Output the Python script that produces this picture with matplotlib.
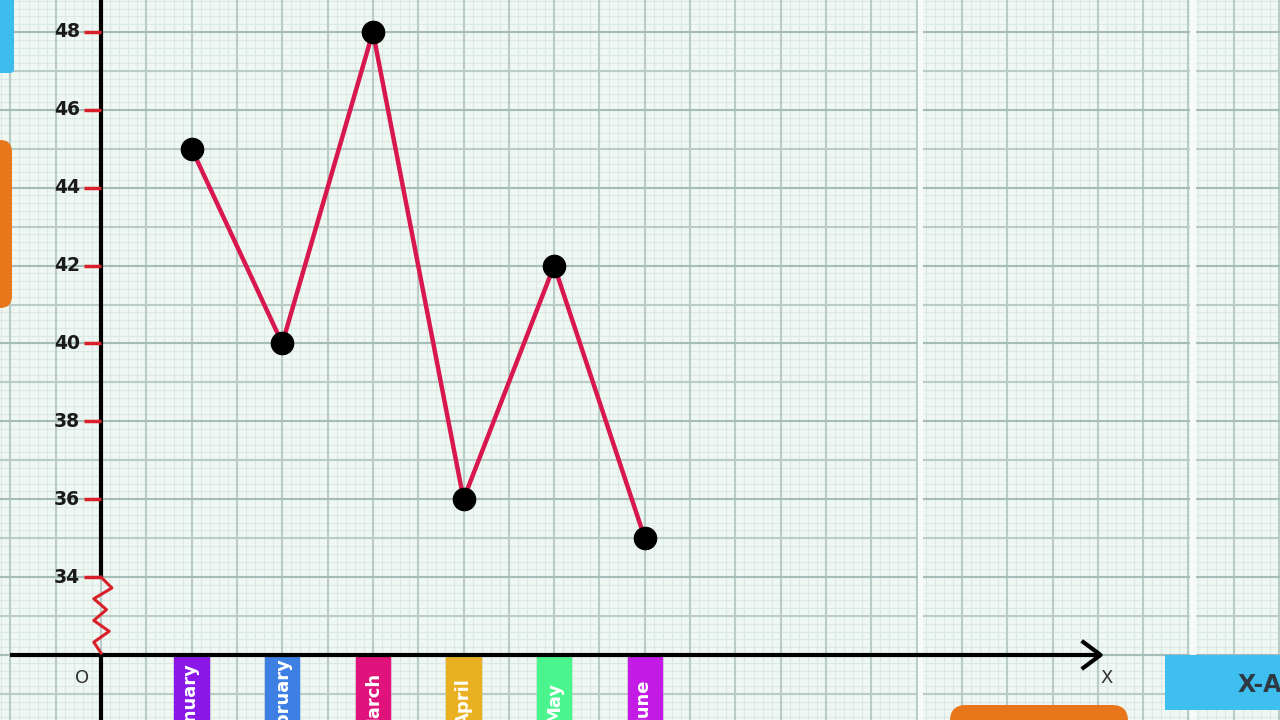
import numpy as np
import matplotlib
matplotlib.use("Agg")
import matplotlib.pyplot as plt
from matplotlib.patches import Rectangle, FancyBboxPatch

months = ["January", "February", "March", "April", "May", "June"]
values = [45, 40, 48, 36, 42, 35]
month_colors = ["#8a16e8", "#3d7fe3", "#e0127b", "#e9b021", "#4bf58e", "#c31ae6"]
y_ticks = [34, 36, 38, 40, 42, 44, 46, 48]

BG = "#eff7f2"
MINOR = "#dbe8e3"
MAJOR = "#b9ccc8"
MAJOR2 = "#a6bcb8"
LINE = "#d8174f"

fig = plt.figure(figsize=(12.8, 7.2), dpi=100)
fig.patch.set_facecolor(BG)
ax = fig.add_axes([0, 0, 1, 1])
ax.set_facecolor(BG)
ax.set_xlim(-1.115, 13.01)
ax.set_ylim(30.33, 48.82)
ax.axis("off")

# graph paper
for gx in np.arange(-1.1, 13.1, 0.1):
    ax.axvline(gx, color=MINOR, lw=0.8, zorder=0)
for gy in np.arange(30.4, 49.0, 0.2):
    ax.axhline(gy, color=MINOR, lw=0.8, zorder=0)
for gx in np.arange(-1.0, 13.1, 0.5):
    ax.axvline(gx, color=MAJOR, lw=1.5, zorder=0.5)
for gy in np.arange(31, 49, 1):
    ax.axhline(gy, color=MAJOR2 if gy % 2 == 0 else MAJOR, lw=1.5, zorder=0.5)
# paper tile seams
for sx in [9.04, 12.05]:
    ax.axvspan(sx - 0.03, sx + 0.03, color="#f6fbf8", zorder=0.6, lw=0)

# axes
ax.plot([-1.0, 11.03], [32, 32], color="black", lw=3, zorder=3, solid_capstyle="butt")
ax.plot([10.84, 11.03, 10.84], [32.33, 32, 31.67], color="black", lw=3, zorder=3)
ax.plot([0, 0], [34, 49], color="black", lw=3, zorder=3)
ax.plot([0, 0], [30, 32], color="black", lw=3, zorder=3)
zig_dx = [0, 0.12, -0.08, 0.06, -0.08, 0.09, -0.08, 0]
zig_y = np.linspace(34, 32.05, len(zig_dx))
ax.plot(zig_dx, zig_y, color="#d8202a", lw=2.2, zorder=3)

ax.hlines(y_ticks, -0.19, 0.0, color="#d8202a", lw=2.5, zorder=3)
for t in y_ticks:
    ax.text(-0.23, t, str(t), ha="right", va="center", fontsize=13.5,
            fontweight="bold", color="#1a1a1a", zorder=4)

ax.text(-0.21, 31.42, "O", ha="center", va="center", fontsize=13, color="#333333")
ax.text(11.1, 31.42, "X", ha="center", va="center", fontsize=13, color="#333333")

# month labels
x = np.arange(1, len(months) + 1)
for xi, m, c in zip(x, months, month_colors):
    ax.add_patch(Rectangle((xi - 0.19, 29.5), 0.38, 2.45, color=c, zorder=2))
    ax.text(xi, 30.78, m, rotation=90, ha="center", va="center", color="white",
            fontsize=13, fontweight="bold", zorder=4)

# data line
ax.plot(x, values, color=LINE, lw=3.2, zorder=5)
ax.plot(x, values, "o", color="black", markersize=16, zorder=6)

# decorations in pixel space
deco = fig.add_axes([0, 0, 1, 1], zorder=10)
deco.set_xlim(0, 1280)
deco.set_ylim(720, 0)
deco.axis("off")
deco.patch.set_alpha(0)
deco.add_patch(FancyBboxPatch((-20, -20), 34, 93, boxstyle="round,pad=0,rounding_size=4",
                              color="#3dbdee", lw=0))
deco.add_patch(FancyBboxPatch((-40, 140), 52, 168, boxstyle="round,pad=0,rounding_size=12",
                              color="#e8761a", lw=0))
deco.add_patch(FancyBboxPatch((950, 705), 178, 60, boxstyle="round,pad=0,rounding_size=16",
                              color="#e8761a", lw=0))
deco.text(1039, 730, "Months", ha="center", va="center", color="white",
          fontsize=15, fontweight="bold")
deco.add_patch(Rectangle((1165, 655), 140, 55, color="#3ebfef", lw=0))
deco.text(1238, 685, "X-Axis", ha="left", va="center", color="#2e3a44",
          fontsize=17, fontweight="bold")

fig.savefig("out.png", dpi=100, facecolor=BG)
